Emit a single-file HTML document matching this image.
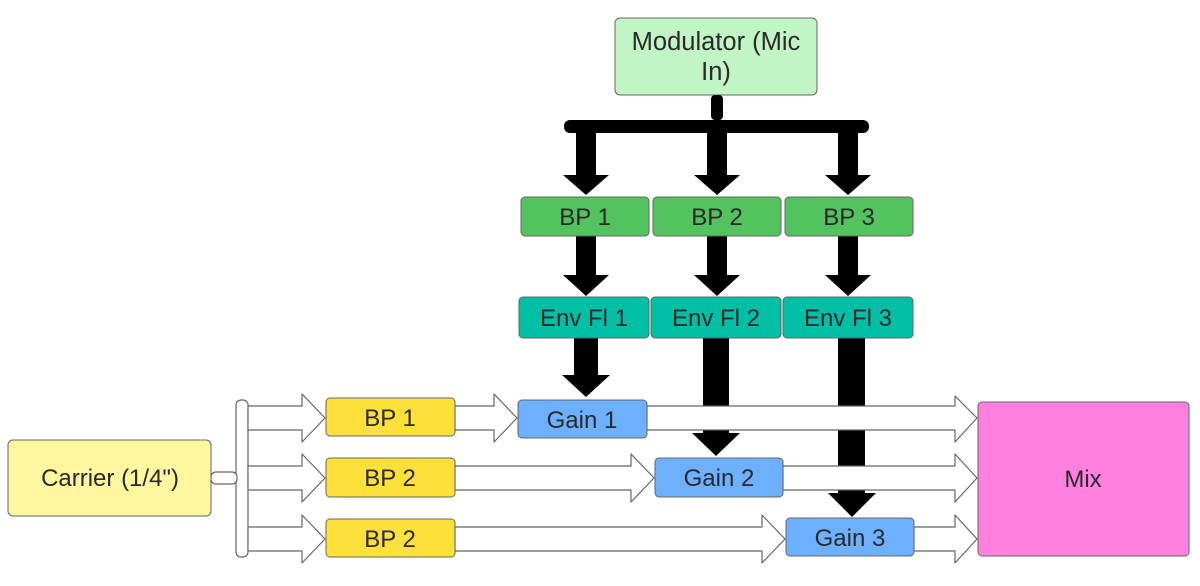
<!DOCTYPE html>
<html><head><meta charset="utf-8"><style>
html,body{margin:0;padding:0;background:#fff;}
svg{display:block;}
text{font-family:"Liberation Sans",sans-serif;fill:#2a2a2a;}
</style></head><body>
<svg width="1200" height="586" viewBox="0 0 1200 586" xmlns="http://www.w3.org/2000/svg">
<rect x="615" y="18" width="202" height="77" rx="5" fill="#c2f5c6" stroke="#666" stroke-width="1"/>
<text x="716" y="50" font-size="25.5" text-anchor="middle">Modulator (Mic</text>
<text x="716" y="80" font-size="25.5" text-anchor="middle">In)</text>
<rect x="711" y="95" width="12" height="25" rx="4" fill="#000"/>
<rect x="564" y="120" width="305" height="13" rx="6" fill="#000"/>
<g fill="#000">
<path d="M576,132 h20 v43 h13 l-23,20 l-23,-20 h13 z"/>
<path d="M707,132 h20 v43 h13 l-23,20 l-23,-20 h13 z"/>
<path d="M838,132 h20 v43 h13 l-23,20 l-23,-20 h13 z"/>
<path d="M576,236 h20 v39 h13 l-23,21 l-23,-21 h13 z"/>
<path d="M707,236 h20 v39 h13 l-23,21 l-23,-21 h13 z"/>
<path d="M838,236 h20 v39 h13 l-23,21 l-23,-21 h13 z"/>
<path d="M574,338 h24 v37 h12 l-24,22 l-24,-22 h12 z"/>
<path d="M703,338 h26 v95 h11 l-24,23 l-24,-23 h11 z"/>
<path d="M838,338 h27 v155 h11 l-24,24 l-24,-24 h10 z"/>
</g>
<g stroke="#666" stroke-width="1">
<rect x="521" y="197" width="128" height="39" rx="4" fill="#52c35e"/>
<rect x="653" y="197" width="128" height="39" rx="4" fill="#52c35e"/>
<rect x="785" y="197" width="128" height="39" rx="4" fill="#52c35e"/>
<rect x="519" y="297" width="130" height="41" rx="4" fill="#00bfa5"/>
<rect x="651" y="297" width="130" height="41" rx="4" fill="#00bfa5"/>
<rect x="783" y="297" width="130" height="41" rx="4" fill="#00bfa5"/>
</g>
<g font-size="24" text-anchor="middle">
<text x="585" y="225">BP 1</text><text x="717" y="225">BP 2</text><text x="849" y="225">BP 3</text>
<text x="584" y="326">Env Fl 1</text><text x="716" y="326">Env Fl 2</text><text x="848" y="326">Env Fl 3</text>
</g>
<g fill="#fff" stroke="#666" stroke-width="1.2" stroke-linejoin="round">
<rect x="236" y="400" width="12" height="157" rx="5"/>
<rect x="211" y="472" width="26" height="12" rx="5"/>
<path d="M248,406 H302 V394 L325,418 L302,442 V430 H248 Z"/>
<path d="M248,466 H302 V454 L325,478 L302,502 V490 H248 Z"/>
<path d="M248,527 H302 V515 L325,539 L302,563 V551 H248 Z"/>
<path d="M455,406 H494 V394 L517,418 L494,442 V430 H455 Z"/>
<path d="M647,406 H955 V396 L977,418 L955,442 V430 H647 Z"/>
<path d="M455,466 H631 V454 L654,478 L631,502 V490 H455 Z"/>
<path d="M783,466 H955 V454 L977,478 L955,502 V490 H783 Z"/>
<path d="M455,527 H762 V515 L785,539 L762,563 V551 H455 Z"/>
<path d="M914,527 H955 V515 L977,539 L955,563 V551 H914 Z"/>
</g>
<g stroke="#666" stroke-width="1">
<rect x="8" y="440" width="203" height="76" rx="5" fill="#fff6a0"/>
<rect x="326" y="398" width="129" height="38" rx="4" fill="#fde03a"/>
<rect x="326" y="458" width="129" height="39" rx="4" fill="#fde03a"/>
<rect x="326" y="519" width="129" height="38" rx="4" fill="#fde03a"/>
<rect x="518" y="400" width="129" height="38" rx="4" fill="#6cb0ff"/>
<rect x="655" y="458" width="128" height="39" rx="4" fill="#6cb0ff"/>
<rect x="786" y="518" width="128" height="38" rx="4" fill="#6cb0ff"/>
<rect x="978" y="402" width="211" height="154" rx="4" fill="#ff80df"/>
</g>
<g font-size="24" text-anchor="middle">
<text x="110" y="486">Carrier (1/4")</text>
<text x="390" y="426">BP 1</text><text x="390" y="486">BP 2</text><text x="390" y="547">BP 2</text>
<text x="582" y="428">Gain 1</text><text x="719" y="486">Gain 2</text><text x="850" y="546">Gain 3</text>
<text x="1083" y="487">Mix</text>
</g>
</svg>
</body></html>
